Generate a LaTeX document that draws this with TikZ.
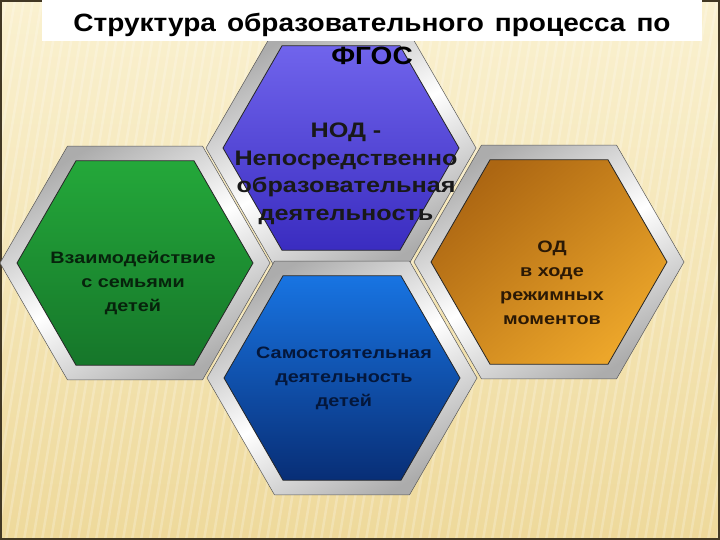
\documentclass[tikz,border=0pt]{standalone}
\usepackage{fontspec}
\setmainfont{Liberation Sans}
\newfontfamily\titlefont[FakeStretch=1.12]{Liberation Sans}
\newfontfamily\cellfont[FakeStretch=1.2]{Liberation Sans}
\newcommand\titlespace{\spaceskip=11pt\relax}
\usepackage{tikz}
\usetikzlibrary{shapes.geometric}
\definecolor{beigeA}{RGB}{250,241,208}
\definecolor{beigeB}{RGB}{238,217,155}
\definecolor{edgeC}{RGB}{66,56,36}
\definecolor{nodA}{RGB}{112,100,236}
\definecolor{nodB}{RGB}{58,44,192}
\definecolor{famA}{RGB}{36,168,58}
\definecolor{famB}{RGB}{22,118,42}
\definecolor{odA}{RGB}{172,102,18}
\definecolor{odB}{RGB}{236,166,42}
\definecolor{samA}{RGB}{24,116,226}
\definecolor{samB}{RGB}{8,46,118}

\begin{document}
\begin{tikzpicture}[x=1pt,y=-1pt,
	hexframe/.style={regular polygon,regular polygon sides=6,minimum size=270pt,inner sep=0pt,draw=gray!70!black,line width=0.5pt,left color=gray!65,right color=gray!65,middle color=white,shading angle=30},
	hexcell/.style={regular polygon,regular polygon sides=6,minimum size=236pt,inner sep=0pt,draw=black!85,line width=0.8pt},
	celltext/.style={font=\cellfont\bfseries\fontsize{16.5}{24}\selectfont,align=center}
	]
	\useasboundingbox (0,0) rectangle (720,540);
	\fill[top color=beigeA,bottom color=beigeB] (0,0) rectangle (720,540);
	\begin{scope}
		\clip (0,0) rectangle (720,540);
		\foreach \x in {-120,-111,...,760}
			\draw[white,opacity=0.22,line width=2.5pt] (\x,540) -- (\x+90,0);
	\end{scope}
	\draw[edgeC,line width=2pt] (1,1) rectangle (719,539);

	\node[hexframe] (famframe) at (135,263) {};
	\node[hexframe] (odframe) at (549,262) {};
	\node[hexframe] (nodframe) at (341,148) {};
	\node[hexframe] (samframe) at (342,378) {};

	\node[hexcell,top color=famA,bottom color=famB] (fam) at (famframe) {};
	\node[hexcell,top color=odA,bottom color=odB,shading angle=40] (od) at (odframe) {};
	\node[hexcell,top color=nodA,bottom color=nodB] (nod) at (nodframe) {};
	\node[hexcell,top color=samA,bottom color=samB] (sam) at (samframe) {};

	\fill[white] (42,0) rectangle (702,41);
	\node[font=\titlefont\bfseries\fontsize{25}{33}\selectfont\titlespace,align=center] (title) at (372,39) {Структура образовательного процесса по\\ФГОС};

	\node[celltext,font=\cellfont\bfseries\fontsize{21}{27.5}\selectfont,text=black!90] (nodtext) at (346,174) {НОД -\\Непосредственно\\образовательная\\деятельность};
	\node[celltext,text=famB!30!black] (famtext) at (133,283) {Взаимодействие\\с семьями\\детей};
	\node[celltext,text=odA!25!black] (odtext) at (552,283) {ОД\\в ходе\\режимных\\моментов};
	\node[celltext,text=samB!50!black] (samtext) at (344,378) {Самостоятельная\\деятельность\\детей};
\end{tikzpicture}
\end{document}
